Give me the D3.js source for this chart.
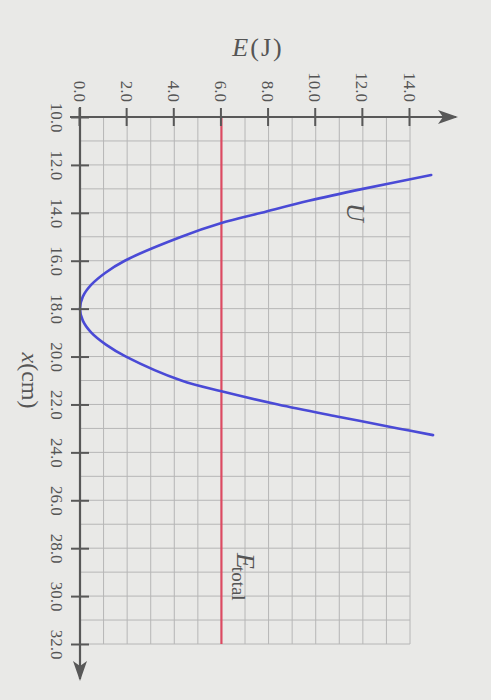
<!DOCTYPE html>
<html>
<head>
<meta charset="utf-8">
<script src="https://cdn.jsdelivr.net/npm/d3@7"></script>
<style>
  html, body { margin: 0; padding: 0; background: #e9e9e7; }
  svg { display: block; }
  text { font-family: "Liberation Serif", "DejaVu Serif", serif; fill: #555; }
</style>
</head>
<body>
<svg id="chart" width="491" height="700"></svg>
<script>
// ---- data ----
const xTicks = [10, 12, 14, 16, 18, 20, 22, 24, 26, 28, 30, 32];          // x (cm)
const eTicks = [0, 2, 4, 6, 8, 10, 12, 14];                                // E (J)
const uX = [12.42, 13.0, 13.5, 14.0, 14.43, 15.0, 16.0, 16.5, 17.0, 17.5, 18.0, 18.5, 19.0, 19.5, 20.0, 21.0, 21.45, 22.0, 22.5, 23.0, 23.28];
const uE = [14.9, 12.0, 9.7, 7.7, 6.0, 4.3, 1.9, 1.08, 0.48, 0.12, 0.0, 0.12, 0.48, 1.1, 1.95, 4.3, 6.0, 8.4, 10.9, 13.5, 14.98];
const eTotal = 6.0;
const eTotalRange = [10, 32];

// ---- layout: the chart is drawn in its own frame, then turned a quarter turn ----
const svg = d3.select("#chart");
svg.append("rect").attr("width", 491).attr("height", 700).attr("fill", "#e9e9e7");

const sx = d3.scaleLinear().domain([10, 32]).range([0, 527]);   // along the page downwards
const sy = d3.scaleLinear().domain([0, 14]).range([0, -330]);   // along the page rightwards

const g = svg.append("g").attr("transform", "translate(80,117) rotate(90)");

// grid
const gridX = d3.range(10, 33, 1);
const gridE = d3.range(0, 15, 1);
g.append("g").selectAll("line").data(gridX).join("line")
  .attr("x1", d => sx(d)).attr("x2", d => sx(d))
  .attr("y1", sy(0)).attr("y2", sy(14))
  .attr("stroke", "#b6b6b6").attr("stroke-width", 1);
g.append("g").selectAll("line").data(gridE).join("line")
  .attr("x1", sx(10)).attr("x2", sx(32))
  .attr("y1", d => sy(d)).attr("y2", d => sy(d))
  .attr("stroke", "#b6b6b6").attr("stroke-width", 1);

// E_total line
g.append("line")
  .attr("x1", sx(eTotalRange[0])).attr("x2", sx(eTotalRange[1]))
  .attr("y1", sy(eTotal)).attr("y2", sy(eTotal))
  .attr("stroke", "#dc4a62").attr("stroke-width", 2.2);

// U curve
const pts = uX.map((x, i) => [x, uE[i]]);
g.append("path").datum(pts)
  .attr("d", d3.line().x(d => sx(d[0])).y(d => sy(d[1])).curve(d3.curveCatmullRom.alpha(0.5)))
  .attr("fill", "none").attr("stroke", "#4a4ad6").attr("stroke-width", 2.6)
  .attr("stroke-linecap", "round");

// axes lines with arrows
const axisCol = "#585858";
const defs = svg.append("defs");
defs.append("marker").attr("id", "arr").attr("viewBox", "0 0 20 14")
  .attr("refX", 18).attr("refY", 7).attr("markerWidth", 20).attr("markerHeight", 14)
  .attr("markerUnits", "userSpaceOnUse").attr("orient", "auto")
  .append("path").attr("d", "M0,0 L20,7 L0,14 L5,7 Z").attr("fill", axisCol);

g.append("line").attr("x1", -10).attr("x2", sx(32) + 35).attr("y1", 0).attr("y2", 0)
  .attr("stroke", axisCol).attr("stroke-width", 2.2).attr("marker-end", "url(#arr)");
g.append("line").attr("x1", 0).attr("x2", 0).attr("y1", 10).attr("y2", sy(14) - 46)
  .attr("stroke", axisCol).attr("stroke-width", 2.2).attr("marker-end", "url(#arr)");

// x axis (cm)
const fmt = d3.format(".1f");
const xAxis = g.append("g").call(d3.axisBottom(sx).tickValues(xTicks).tickFormat(fmt).tickSize(9));
xAxis.select(".domain").remove();
xAxis.selectAll(".tick line").attr("y1", -9).attr("stroke", axisCol).attr("stroke-width", 2);
xAxis.selectAll(".tick text").attr("y", 23).attr("dy", "0.35em")
  .attr("font-size", 17).attr("fill", "#555")
  .style("font-family", "'Liberation Serif', serif");

// E axis (J)
const eAxis = g.append("g").call(d3.axisLeft(sy).tickValues(eTicks).tickFormat(fmt).tickSize(9));
eAxis.select(".domain").remove();
eAxis.selectAll(".tick line").attr("x1", 9).attr("stroke", axisCol).attr("stroke-width", 2);
eAxis.selectAll(".tick text").attr("x", -15).attr("dy", "0.35em")
  .attr("font-size", 17).attr("fill", "#555").attr("text-anchor", "end")
  .style("font-family", "'Liberation Serif', serif");

// axis titles
const eTitle = g.append("text")
  .attr("transform", `translate(-70,${sy(0) - 178}) rotate(-90)`)
  .attr("text-anchor", "middle").attr("dominant-baseline", "central")
  .attr("font-size", 26).attr("letter-spacing", 2);
eTitle.append("tspan").attr("font-style", "italic").text("E");
eTitle.append("tspan").text("(J)");

const xTitle = g.append("text")
  .attr("x", (sx(10) + sx(32)) / 2).attr("y", 50)
  .attr("text-anchor", "middle").attr("dominant-baseline", "central")
  .attr("font-size", 24);
xTitle.append("tspan").attr("font-style", "italic").text("x");
xTitle.append("tspan").text("(cm)");

// curve labels
g.append("text").attr("x", sx(13.59)).attr("y", sy(11.33))
  .attr("font-size", 26).attr("font-style", "italic").text("U");

const et = g.append("text").attr("x", sx(28.2)).attr("y", sy(6.66)).attr("font-size", 26);
et.append("tspan").attr("font-style", "italic").text("E");
et.append("tspan").attr("font-size", 19).attr("dy", 5).attr("dx", -2).text("total");
</script>
</body>
</html>
